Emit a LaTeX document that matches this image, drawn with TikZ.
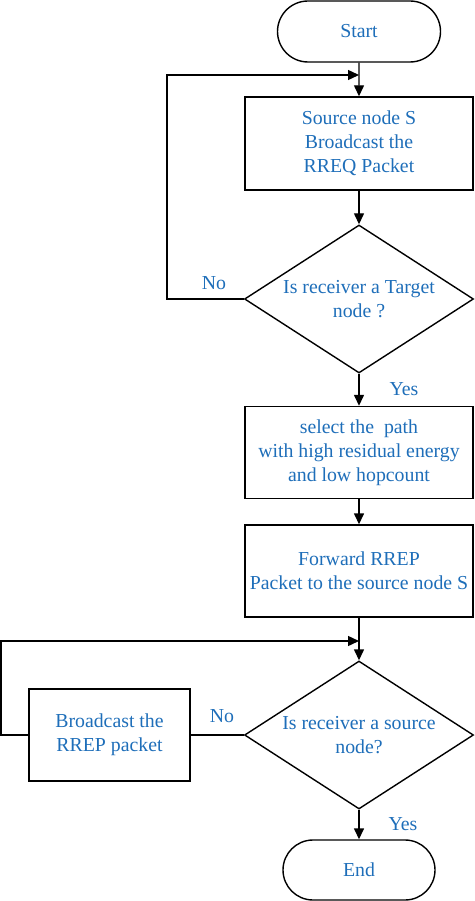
\documentclass[tikz,border=0pt]{standalone}
\usepackage{fontspec}
\setmainfont{Liberation Serif}
\usetikzlibrary{shapes.geometric,shapes.misc,arrows.meta}
\definecolor{txtblue}{RGB}{30,110,185}
\begin{document}
\begin{tikzpicture}[x=1pt,y=-1pt,
  every node/.style={font=\fontsize{19.8}{24}\selectfont, text=txtblue},
  base/.style={draw=black, line width=1.4pt, align=center, inner sep=0pt},
  term/.style={base, rounded rectangle},
  proc/.style={base, rectangle},
  decision/.style={base, diamond, aspect=1.55},
  arr/.style={line width=1.4pt, -{Triangle[length=11pt,width=10pt]}},
  ln/.style={line width=1.4pt},
  lbl/.style={inner sep=0pt}
]
\useasboundingbox (0,0) rectangle (474,901);
\node[term, minimum width=163pt, minimum height=61pt] (start) at (359,31.5) {Start};
\node[proc, minimum width=228pt, minimum height=93pt] (b1) at (359,143.5) {Source node S\\Broadcast the\\RREQ Packet};
\node[decision, minimum width=229pt, minimum height=148pt] (d1) at (359,299) {Is receiver a Target\\node ?};
\node[proc, minimum width=228pt, minimum height=92pt] (b2) at (359,452.5) {select the~ path\\with high residual energy\\and low hopcount};
\node[proc, minimum width=228pt, minimum height=92pt] (b3) at (359,571) {Forward RREP\\Packet to the source node S};
\node[decision, minimum width=229pt, minimum height=148pt] (d2) at (359,735) {Is receiver a source\\node?};
\node[proc, minimum width=161pt, minimum height=92pt] (b4) at (109.5,735) {Broadcast the\\RREP packet};
\node[term, minimum width=152pt, minimum height=60pt] (end) at (359,870) {End};

\coordinate (j1) at (359,75);
\coordinate (l1) at (167,75);
\coordinate (j2) at (359,641);
\coordinate (l2) at (1,641);

\draw[arr] (start) -- (b1);
\draw[arr] (b1) -- (d1);
\draw[arr] (d1.west) -| (l1) -- (j1);
\draw[arr] (d1) -- (b2);
\draw[arr] (b2) -- (b3);
\draw[arr] (b3) -- (d2);
\draw[ln] (d2.west) -- (b4.east);
\draw[arr] (b4.west) -| (l2) -- (j2);
\draw[arr] (d2) -- (end);

\node[lbl] (no1) at (214,283) {No};
\node[lbl] (yes1) at (404,389) {Yes};
\node[lbl] (no2) at (222,716) {No};
\node[lbl] (yes2) at (403,824) {Yes};
\end{tikzpicture}
\end{document}
